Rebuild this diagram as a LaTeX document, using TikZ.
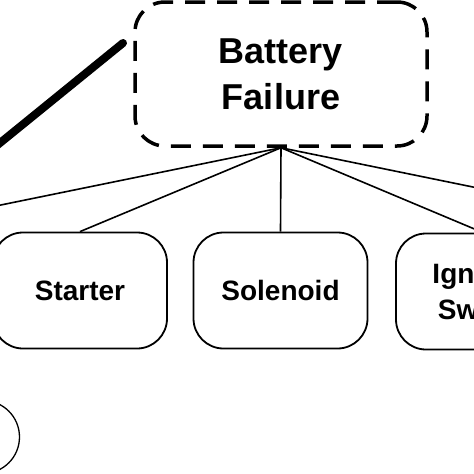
\documentclass[tikz,border=0pt]{standalone}
\usepackage{fontspec}
\setmainfont{Liberation Sans}
\begin{document}
\begin{tikzpicture}[x=1pt,y=-1pt,
  topbox/.style={draw, line width=3.5pt, dash pattern=on 20pt off 12pt, rounded corners=30pt,
    minimum width=292pt, minimum height=144pt, align=center, inner sep=0pt,
    font=\fontsize{36}{46}\selectfont\bfseries},
  leafbox/.style={draw, line width=1.8pt, rounded corners=30pt,
    minimum width=174pt, minimum height=116pt, align=center, inner sep=0pt,
    font=\fontsize{28}{36}\selectfont\bfseries},
  link/.style={line width=1.6pt},
  thick link/.style={line width=8pt, line cap=round}]
\useasboundingbox (0,0) rectangle (474,474);
\clip (0,0) rectangle (474,474);
\node[topbox] (bf) at (281,74) {Battery\\Failure};
\node[leafbox] (st) at (80,290.5) {Starter};
\node[leafbox] (so) at (280.5,290.5) {Solenoid};
\node[leafbox] (ig) at (483,291.5) {Ignition\\Switch};
\node[draw, circle, line width=1.3pt, minimum size=73pt, inner sep=0pt] (cl) at (-17,437) {};
\coordinate (farL) at (-100,225.6);
\coordinate (farR) at (600,213);
\coordinate (tA) at (123,43);
\coordinate (tB) at (-50,183.6);
\draw[link] (bf.south) -- (farL);
\draw[link] (bf.south) -- (st.north);
\draw[link] (bf.south) -- (so.north);
\draw[link] (bf.south) -- (ig.north);
\draw[link] (bf.south) -- (farR);
\draw[thick link] (tB) -- (tA);
\end{tikzpicture}
\end{document}
